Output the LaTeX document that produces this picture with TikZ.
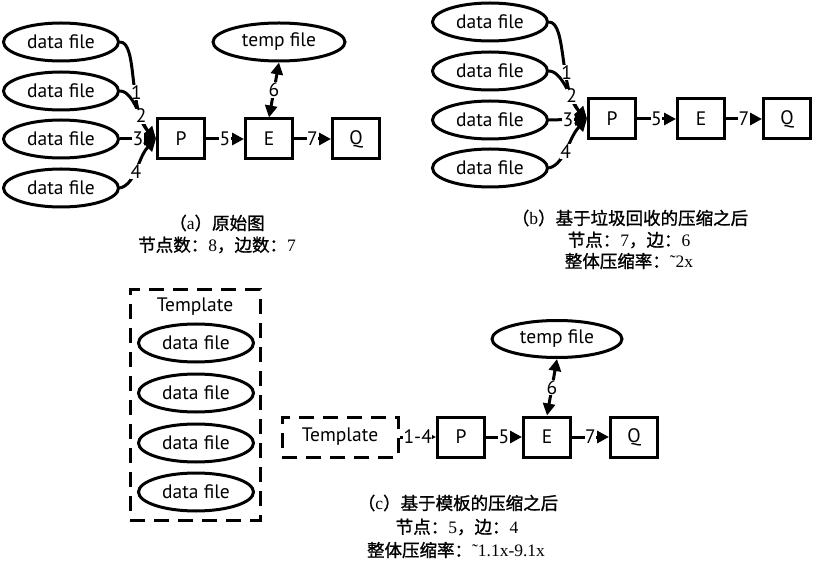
\documentclass[tikz,border=0pt]{standalone}
\usepackage{fontspec}
\setmainfont{Liberation Serif}
\newfontfamily\dsans{PT Sans}
\newfontfamily\cjk[FakeBold=1.2]{Noto Sans CJK SC}
\usetikzlibrary{shapes.geometric,arrows.meta}
\begin{document}
\begin{tikzpicture}[x=1pt,y=-1pt,
  every node/.style={font=\dsans\fontsize{19.5}{21}\selectfont},
  dfile/.style={ellipse,draw,line width=3pt,minimum width=115pt,minimum height=38pt,inner sep=0pt},
  tfile/.style={dfile,minimum width=132pt},
  sbox/.style={rectangle,draw,line width=3pt,minimum width=47pt,minimum height=40pt,inner sep=0pt},
  dbox/.style={rectangle,draw,line width=3pt,dash pattern=on 15pt off 9pt},
  edge/.style={line width=3pt,-{Triangle[length=12pt,width=12pt]}},
  dedge/.style={line width=3pt,{Triangle[length=12pt,width=12pt]}-{Triangle[length=12pt,width=12pt]}},
  elab/.style={fill=white,inner sep=0.6pt},
  captxt/.style={font=\rmfamily\fontsize{17.5}{19}\selectfont,inner sep=0pt}
]
\useasboundingbox (0,0) rectangle (814,561);
% ---------- (a)
\node[dfile] (a1) at (61,42) {data file};
\node[dfile] (a2) at (61,91) {data file};
\node[dfile] (a3) at (61,139) {data file};
\node[dfile] (a4) at (61,188) {data file};
\node[tfile] (atf) at (279,42) {temp file};
\node[sbox] (aP) at (181,139) {P};
\node[sbox] (aE) at (269,139) {E};
\node[sbox] (aQ) at (356,139) {Q};
\draw[edge] (a1.east) .. controls +(18,0) and +(-28,-28) .. (aP.west) node[pos=0.6,elab]{1};
\draw[edge] (a2.east) .. controls +(14,0) and +(-14,-14) .. (aP.west) node[pos=0.6,elab]{2};
\draw[edge] (a3.east) -- (aP.west) node[pos=0.5,elab]{3};
\draw[edge] (a4.east) .. controls +(16,-4) and +(-18,18) .. (aP.west) node[pos=0.45,elab]{4};
\draw[edge] (aP.east) -- (aE.west) node[midway,elab]{5};
\draw[edge] (aE.east) -- (aQ.west) node[midway,elab]{7};
\draw[dedge] (aE.north) -- (atf.south) node[midway,elab]{6};
\node[captxt] (ca1) at (217,223) {{\cjk （}a{\cjk ）原始图}};
\node[captxt] (ca2) at (217,245) {{\cjk 节点数：}8{\cjk ，边数：}7};
% ---------- (b)
\node[dfile] (b1) at (490,22) {data file};
\node[dfile] (b2) at (490,71) {data file};
\node[dfile] (b3) at (490,120) {data file};
\node[dfile] (b4) at (490,168) {data file};
\node[sbox] (bP) at (612,119) {P};
\node[sbox] (bE) at (701,119) {E};
\node[sbox] (bQ) at (787,119) {Q};
\draw[edge] (b1.east) .. controls +(18,0) and +(-28,-28) .. (bP.west) node[pos=0.6,elab]{1};
\draw[edge] (b2.east) .. controls +(14,0) and +(-14,-14) .. (bP.west) node[pos=0.6,elab]{2};
\draw[edge] (b3.east) -- (bP.west) node[pos=0.5,elab]{3};
\draw[edge] (b4.east) .. controls +(16,-4) and +(-18,18) .. (bP.west) node[pos=0.45,elab]{4};
\draw[edge] (bP.east) -- (bE.west) node[midway,elab]{5};
\draw[edge] (bE.east) -- (bQ.west) node[midway,elab]{7};
\node[captxt] (cb1) at (630,218) {{\cjk （}b{\cjk ）基于垃圾回收的压缩之后}};
\node[captxt] (cb2) at (629,240) {{\cjk 节点：}7{\cjk ，边：}6};
\node[captxt] (cb3) at (629,261) {{\cjk 整体压缩率：}˜2x};
% ---------- (c)
\node[dbox,minimum width=130pt,minimum height=230pt] (ct) at (195,405) {};
\node (ctl) at (195,307) {Template};
\node[dfile] (c1) at (196,343) {data file};
\node[dfile] (c2) at (196,393) {data file};
\node[dfile] (c3) at (196,443) {data file};
\node[dfile] (c4) at (196,492) {data file};
\node[dbox,minimum width=116pt,minimum height=40pt] (cT) at (340,437) {Template};
\node[sbox] (cP) at (461,437) {P};
\node[sbox] (cE) at (547,437) {E};
\node[sbox] (cQ) at (634,437) {Q};
\node[tfile,minimum width=130pt,minimum height=37pt] (ctf) at (557,339) {temp file};
\draw[edge] (cT.east) -- (cP.west) node[midway,elab]{1-4};
\draw[edge] (cP.east) -- (cE.west) node[midway,elab]{5};
\draw[edge] (cE.east) -- (cQ.west) node[midway,elab]{7};
\draw[dedge] (cE.north) -- (ctf.south) node[midway,elab]{6};
\node[captxt] (cc1) at (458,503) {{\cjk （}c{\cjk ）基于模板的压缩之后}};
\node[captxt] (cc2) at (457,527) {{\cjk 节点：}5{\cjk ，边：}4};
\node[captxt] (cc3) at (456,550) {{\cjk 整体压缩率：}˜1.1x-9.1x};
\end{tikzpicture}
\end{document}
